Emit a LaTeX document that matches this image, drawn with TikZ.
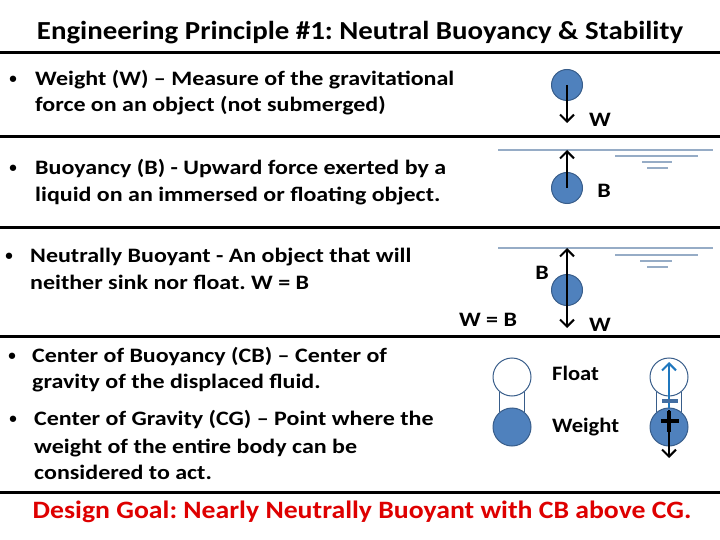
\documentclass[tikz,border=0pt]{standalone}
\usepackage{fontspec}
\setmainfont{Carlito}[FakeStretch=1.17]
\newfontfamily\titlefont[FakeStretch=1.11]{Carlito}
\newfontfamily\goalfont[FakeStretch=1.11]{Carlito}
\newfontfamily\fwfont[FakeStretch=1.1]{Carlito}
\newfontfamily\bulfont{Carlito}
\usetikzlibrary{arrows.meta}
\definecolor{ball}{RGB}{79,129,189}
\definecolor{balledge}{RGB}{56,93,138}
\definecolor{water}{RGB}{150,172,198}
\definecolor{goal}{RGB}{222,0,0}
\definecolor{bluearrow}{RGB}{31,119,190}
\frenchspacing
\begin{document}
\begin{tikzpicture}[x=1pt,y=-1pt,
  txt/.style={anchor=base west,inner sep=0pt,font=\bfseries\fontsize{20.5}{24}\selectfont},
  bul/.style={anchor=base,inner sep=0pt,font=\bulfont\bfseries\fontsize{15}{18}\selectfont},
  lbl/.style={anchor=base,inner sep=0pt,font=\bfseries\fontsize{20.5}{24}\selectfont},
  fw/.style={anchor=base west,inner sep=0pt,font=\fwfont\bfseries\fontsize{20.5}{24}\selectfont},
  rule/.style={line width=3pt,black},
  wline/.style={line width=1.3pt,water},
  ballnode/.style={circle,draw=balledge,fill=ball,line width=1pt,minimum size=31pt,inner sep=0pt},
  bigball/.style={circle,draw=balledge,fill=ball,line width=1pt,minimum size=38pt,inner sep=0pt},
  floatball/.style={circle,draw=balledge,fill=white,line width=1pt,minimum size=38pt,inner sep=0pt},
  tip/.style={-{Straight Barb[length=7pt,width=14pt,line width=2pt]}},
  force/.style={line width=2pt,tip},
]
\useasboundingbox (0,0) rectangle (720,540);
% title
\node[anchor=base,inner sep=0pt,font=\titlefont\bfseries\fontsize{26}{30}\selectfont] (title) at (360,40) {Engineering Principle \#1: Neutral Buoyancy \& Stability};
% rules
\coordinate (r1a) at (0,53);  \coordinate (r1b) at (720,53);
\coordinate (r2a) at (0,137); \coordinate (r2b) at (720,137);
\coordinate (r3a) at (0,228); \coordinate (r3b) at (720,228);
\coordinate (r4a) at (0,336); \coordinate (r4b) at (720,336);
\coordinate (r5a) at (0,492); \coordinate (r5b) at (720,492);
\draw[rule] (r1a) -- (r1b);
\draw[rule] (r2a) -- (r2b);
\draw[rule] (r3a) -- (r3b);
\draw[rule] (r4a) -- (r4b);
\draw[rule] (r5a) -- (r5b);

% section 1
\node[bul] (bu1) at (13,84) {•};
\node[txt] (t1a) at (35,86) {Weight (W) – Measure of the gravitational};
\node[txt] (t1b) at (35,112) {force on an object (not submerged)};
% section 2
\node[bul] (bu2) at (13,173) {•};
\node[txt] (t2a) at (35,175) {Buoyancy (B) - Upward force exerted by a};
\node[txt] (t2b) at (35,202) {liquid on an immersed or floating object.};
% section 3
\node[bul] (bu3) at (9,260) {•};
\node[txt] (t3a) at (30,262) {Neutrally Buoyant - An object that will};
\node[txt] (t3b) at (30,289) {neither sink nor float. W = B};
% section 4
\node[bul] (bu4) at (12,360) {•};
\node[txt] (t4a) at (32,362) {Center of Buoyancy (CB) – Center of};
\node[txt] (t4b) at (32,388) {gravity of the displaced fluid.};
\node[bul] (bu5) at (13,423) {•};
\node[txt] (t5a) at (34,425) {Center of Gravity (CG) – Point where the};
\node[txt] (t5b) at (34,453) {weight of the entire body can be};
\node[txt] (t5c) at (34,479) {considered to act.};
% goal
\node[anchor=base,inner sep=0pt,text=goal,font=\goalfont\bfseries\fontsize{25}{29}\selectfont] (goal) at (362,518) {Design Goal: Nearly Neutrally Buoyant with CB above CG.};

% diagram 1: weight
\node[ballnode] (ball1) at (567,85) {};
\coordinate (w1end) at (567,123);
\draw[force] (ball1.center) -- (w1end);
\node[lbl] (W1) at (600,127) {W};

% diagram 2: buoyancy
\draw[wline] (498,150) -- (713,150);
\draw[wline] (615,156) -- (698,156);
\draw[wline] (642,162) -- (672,162);
\draw[wline] (647,168) -- (668,168);
\node[ballnode] (ball2) at (567,188) {};
\coordinate (b2end) at (567,150);
\draw[force] (ball2.center) -- (b2end);
\node[lbl] (B2) at (604,197) {B};

% diagram 3: neutral
\draw[wline] (498,248) -- (713,248);
\draw[wline] (615,255) -- (698,255);
\draw[wline] (640,261) -- (672,261);
\draw[wline] (647,267) -- (668,267);
\node[ballnode] (ball3) at (567,290) {};
\coordinate (b3end) at (567,248);
\coordinate (w3end) at (567,328);
\draw[force] (ball3.center) -- (b3end);
\draw[force] (ball3.center) -- (w3end);
\node[lbl] (B3) at (542,279) {B};
\node[lbl] (WB) at (488,326) {W = B};
\node[lbl] (W3) at (600,331) {W};

% diagram 4: float/weight
\node[floatball] (fl1) at (512,377) {};
\node[bigball] (wt1) at (512,427) {};
\draw[balledge,line width=1pt] (fl1.-131) -- (wt1.131);
\draw[balledge,line width=1pt] (fl1.-49) -- (wt1.49);
\node[fw] (flt) at (552,380) {Float};
\node[fw] (wgt) at (552,432) {Weight};

\node[floatball] (fl2) at (669,377) {};
\node[bigball] (wt2) at (669,427) {};
\draw[balledge,line width=1pt] (fl2.-131) -- (wt2.131);
\draw[balledge,line width=1pt] (fl2.-49) -- (wt2.49);
\coordinate (ba) at (669,408);
\coordinate (bb) at (669,362);
\draw[line width=2pt,bluearrow,tip] (ba) -- (bb);
\coordinate (ma) at (662,401); \coordinate (mb) at (678,401);
\draw[line width=4pt,ball!85!black] (ma) -- (mb);
\coordinate (pa) at (661,421); \coordinate (pb) at (679,421);
\coordinate (pc) at (669,411); \coordinate (pd) at (669,432);
\draw[line width=4pt,black] (pa) -- (pb);
\draw[line width=4pt,black] (pc) -- (pd);
\coordinate (wa) at (669,410); \coordinate (wb) at (669,458);
\draw[force] (wa) -- (wb);
\end{tikzpicture}
\end{document}
